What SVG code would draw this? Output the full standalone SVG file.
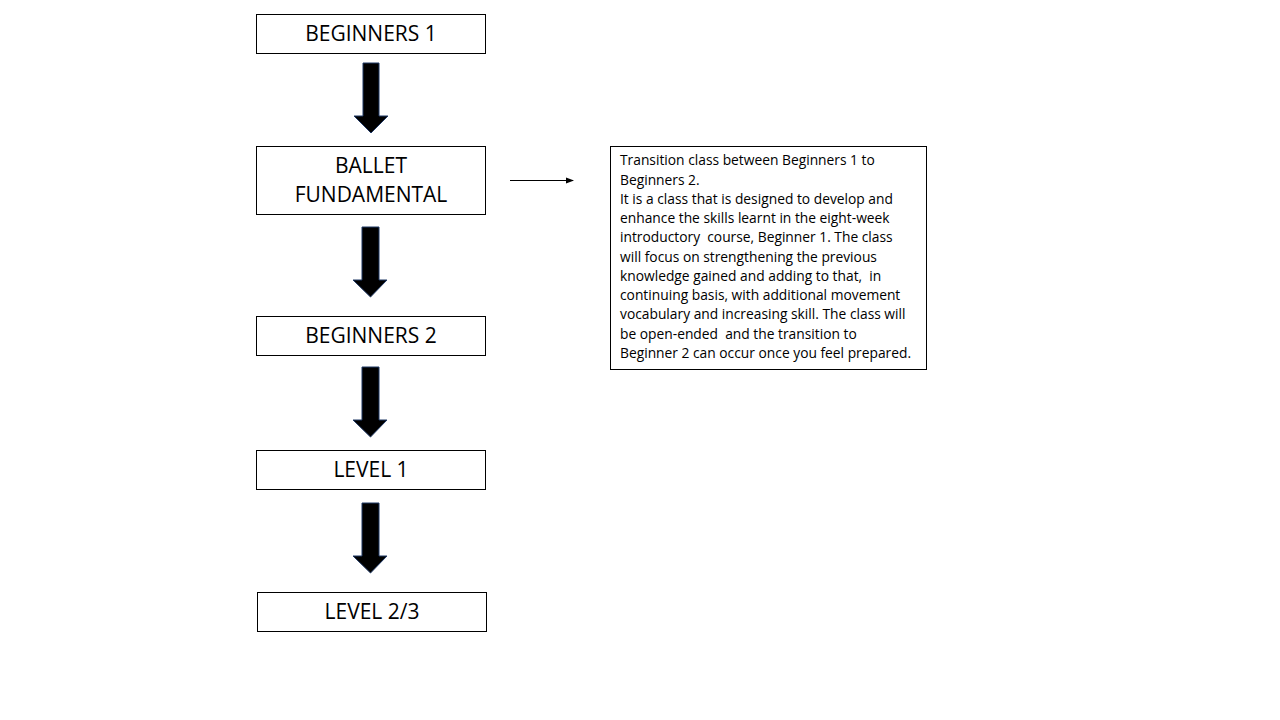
<svg xmlns="http://www.w3.org/2000/svg" width="1280" height="720" viewBox="0 0 1280 720">
<style>
.box{fill:#fff;stroke:#000;stroke-width:1}
.lbl{font-family:"Open Sans","Liberation Sans",sans-serif;font-size:21px;fill:#000;text-anchor:middle}
.txt{font-family:"Open Sans","Liberation Sans",sans-serif;font-size:13.8px;fill:#000;white-space:pre}
.blk{fill:#000;stroke:#1f3864;stroke-width:1}
</style>
<defs>
<marker id="ah" markerWidth="8" markerHeight="8" refX="7" refY="4" orient="auto" markerUnits="userSpaceOnUse">
<path d="M0,1 L8,4 L0,7 Z" fill="#000"/>
</marker>
</defs>
<rect width="1280" height="720" fill="#fff"/>
<g id="connectors">
<path class="blk" d="M363,63 H379 V116 H388 L371,133 L354,116 H363 Z"/>
<path class="blk" d="M362,227 H379 V280 H387 L370.5,297 L353,280 H362 Z"/>
<path class="blk" d="M362,367 H379 V420 H387 L370.5,437 L353,420 H362 Z"/>
<path class="blk" d="M362,503 H379 V556 H387 L370.5,573 L353,556 H362 Z"/>
<line x1="510" y1="180.5" x2="573" y2="180.5" stroke="#000" stroke-width="1" marker-end="url(#ah)"/>
</g>
<g id="beginners1">
<rect class="box" x="256.5" y="14.5" width="229" height="39"/>
<text class="lbl" x="371" y="41">BEGINNERS 1</text>
</g>
<g id="ballet-fundamental">
<rect class="box" x="256.5" y="146.5" width="229" height="68"/>
<text class="lbl" x="371" y="173">BALLET</text>
<text class="lbl" x="371" y="202">FUNDAMENTAL</text>
</g>
<g id="beginners2">
<rect class="box" x="256.5" y="316.5" width="229" height="39"/>
<text class="lbl" x="371" y="343">BEGINNERS 2</text>
</g>
<g id="level1">
<rect class="box" x="256.5" y="450.5" width="229" height="39"/>
<text class="lbl" x="371" y="477">LEVEL 1</text>
</g>
<g id="level23">
<rect class="box" x="257.5" y="592.5" width="229" height="39"/>
<text class="lbl" x="372" y="619">LEVEL 2/3</text>
</g>
<g id="description">
<rect class="box" x="610.5" y="146.5" width="316" height="223"/>
<text class="txt" x="620" y="165">Transition class between Beginners 1 to</text>
<text class="txt" x="620" y="185">Beginners 2.</text>
<text class="txt" x="620" y="204">It is a class that is designed to develop and</text>
<text class="txt" x="620" y="223">enhance the skills learnt in the eight-week</text>
<text class="txt" x="620" y="242" xml:space="preserve">introductory  course, Beginner 1. The class</text>
<text class="txt" x="620" y="262">will focus on strengthening the previous</text>
<text class="txt" x="620" y="281" xml:space="preserve">knowledge gained and adding to that,  in</text>
<text class="txt" x="620" y="300">continuing basis, with additional movement</text>
<text class="txt" x="620" y="319">vocabulary and increasing skill. The class will</text>
<text class="txt" x="620" y="339" xml:space="preserve">be open-ended  and the transition to</text>
<text class="txt" x="620" y="358">Beginner 2 can occur once you feel prepared.</text>
</g>
</svg>
